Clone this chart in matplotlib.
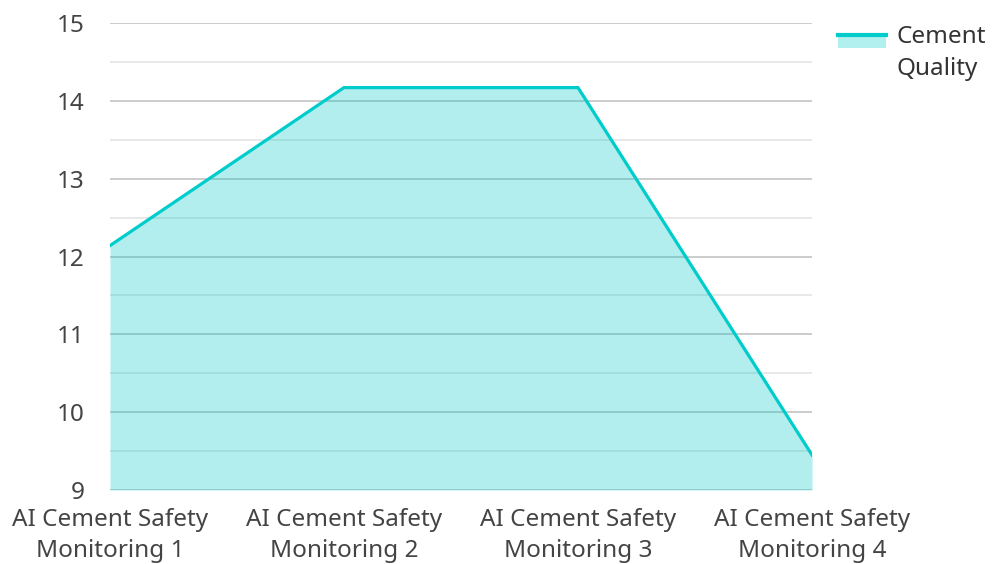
import matplotlib
matplotlib.use("Agg")
import matplotlib.pyplot as plt
from matplotlib.lines import Line2D
from matplotlib.patches import Rectangle

categories = ["AI Cement Safety\nMonitoring 1", "AI Cement Safety\nMonitoring 2",
              "AI Cement Safety\nMonitoring 3", "AI Cement Safety\nMonitoring 4"]
values = [12.14, 14.17, 14.17, 9.45]
series_name = "Cement\nQuality"
yticks = [9, 10, 11, 12, 13, 14, 15]

plt.rcParams['font.family'] = ['Noto Sans', 'DejaVu Sans']

W, H = 993, 564
fig = plt.figure(figsize=(W/100, H/100), dpi=100)
ax = fig.add_axes([110/W, 1-490/H, (812-110)/W, (490-23)/H])

x = list(range(len(categories)))
ax.set_xlim(0, len(categories)-1)
ax.set_ylim(9, 15)

# grid
for v in yticks:
    ax.axhline(v, color="#c8c8c8", lw=1.3, zorder=1)
for v in [9.5, 10.5, 11.5, 12.5, 13.5, 14.5]:
    ax.axhline(v, color="#e6e6e6", lw=1.3, zorder=1)

ax.fill_between(x, values, 9, color="#00c8c8", alpha=0.3, lw=0, zorder=2)
ax.plot(x, values, color="#00cccc", lw=2.3, zorder=3, solid_joinstyle="miter")

ax.set_yticks(yticks)
ax.set_yticklabels([str(v) for v in yticks])
ax.set_xticks(x)
ax.set_xticklabels(categories, linespacing=1.36)
ax.tick_params(axis='both', length=0, labelsize=17.5, colors="#444444")
ax.tick_params(axis='y', pad=18)
ax.tick_params(axis='x', pad=13)
for s in ax.spines.values():
    s.set_visible(False)

# legend (manual, figure coordinates)
fig.add_artist(Rectangle((838/W, 1-48/H), 48/W, 15/H, transform=fig.transFigure,
                         facecolor="#b2efef", edgecolor="none"))
fig.add_artist(Line2D([838/W, 886/W], [1-35/H, 1-35/H], transform=fig.transFigure,
                      color="#00cccc", lw=3))
fig.text(897/W, 1-25/H, series_name, ha="left", va="top", fontsize=17.5,
         color="#333333", linespacing=1.42)

fig.savefig("out.png", dpi=100)
